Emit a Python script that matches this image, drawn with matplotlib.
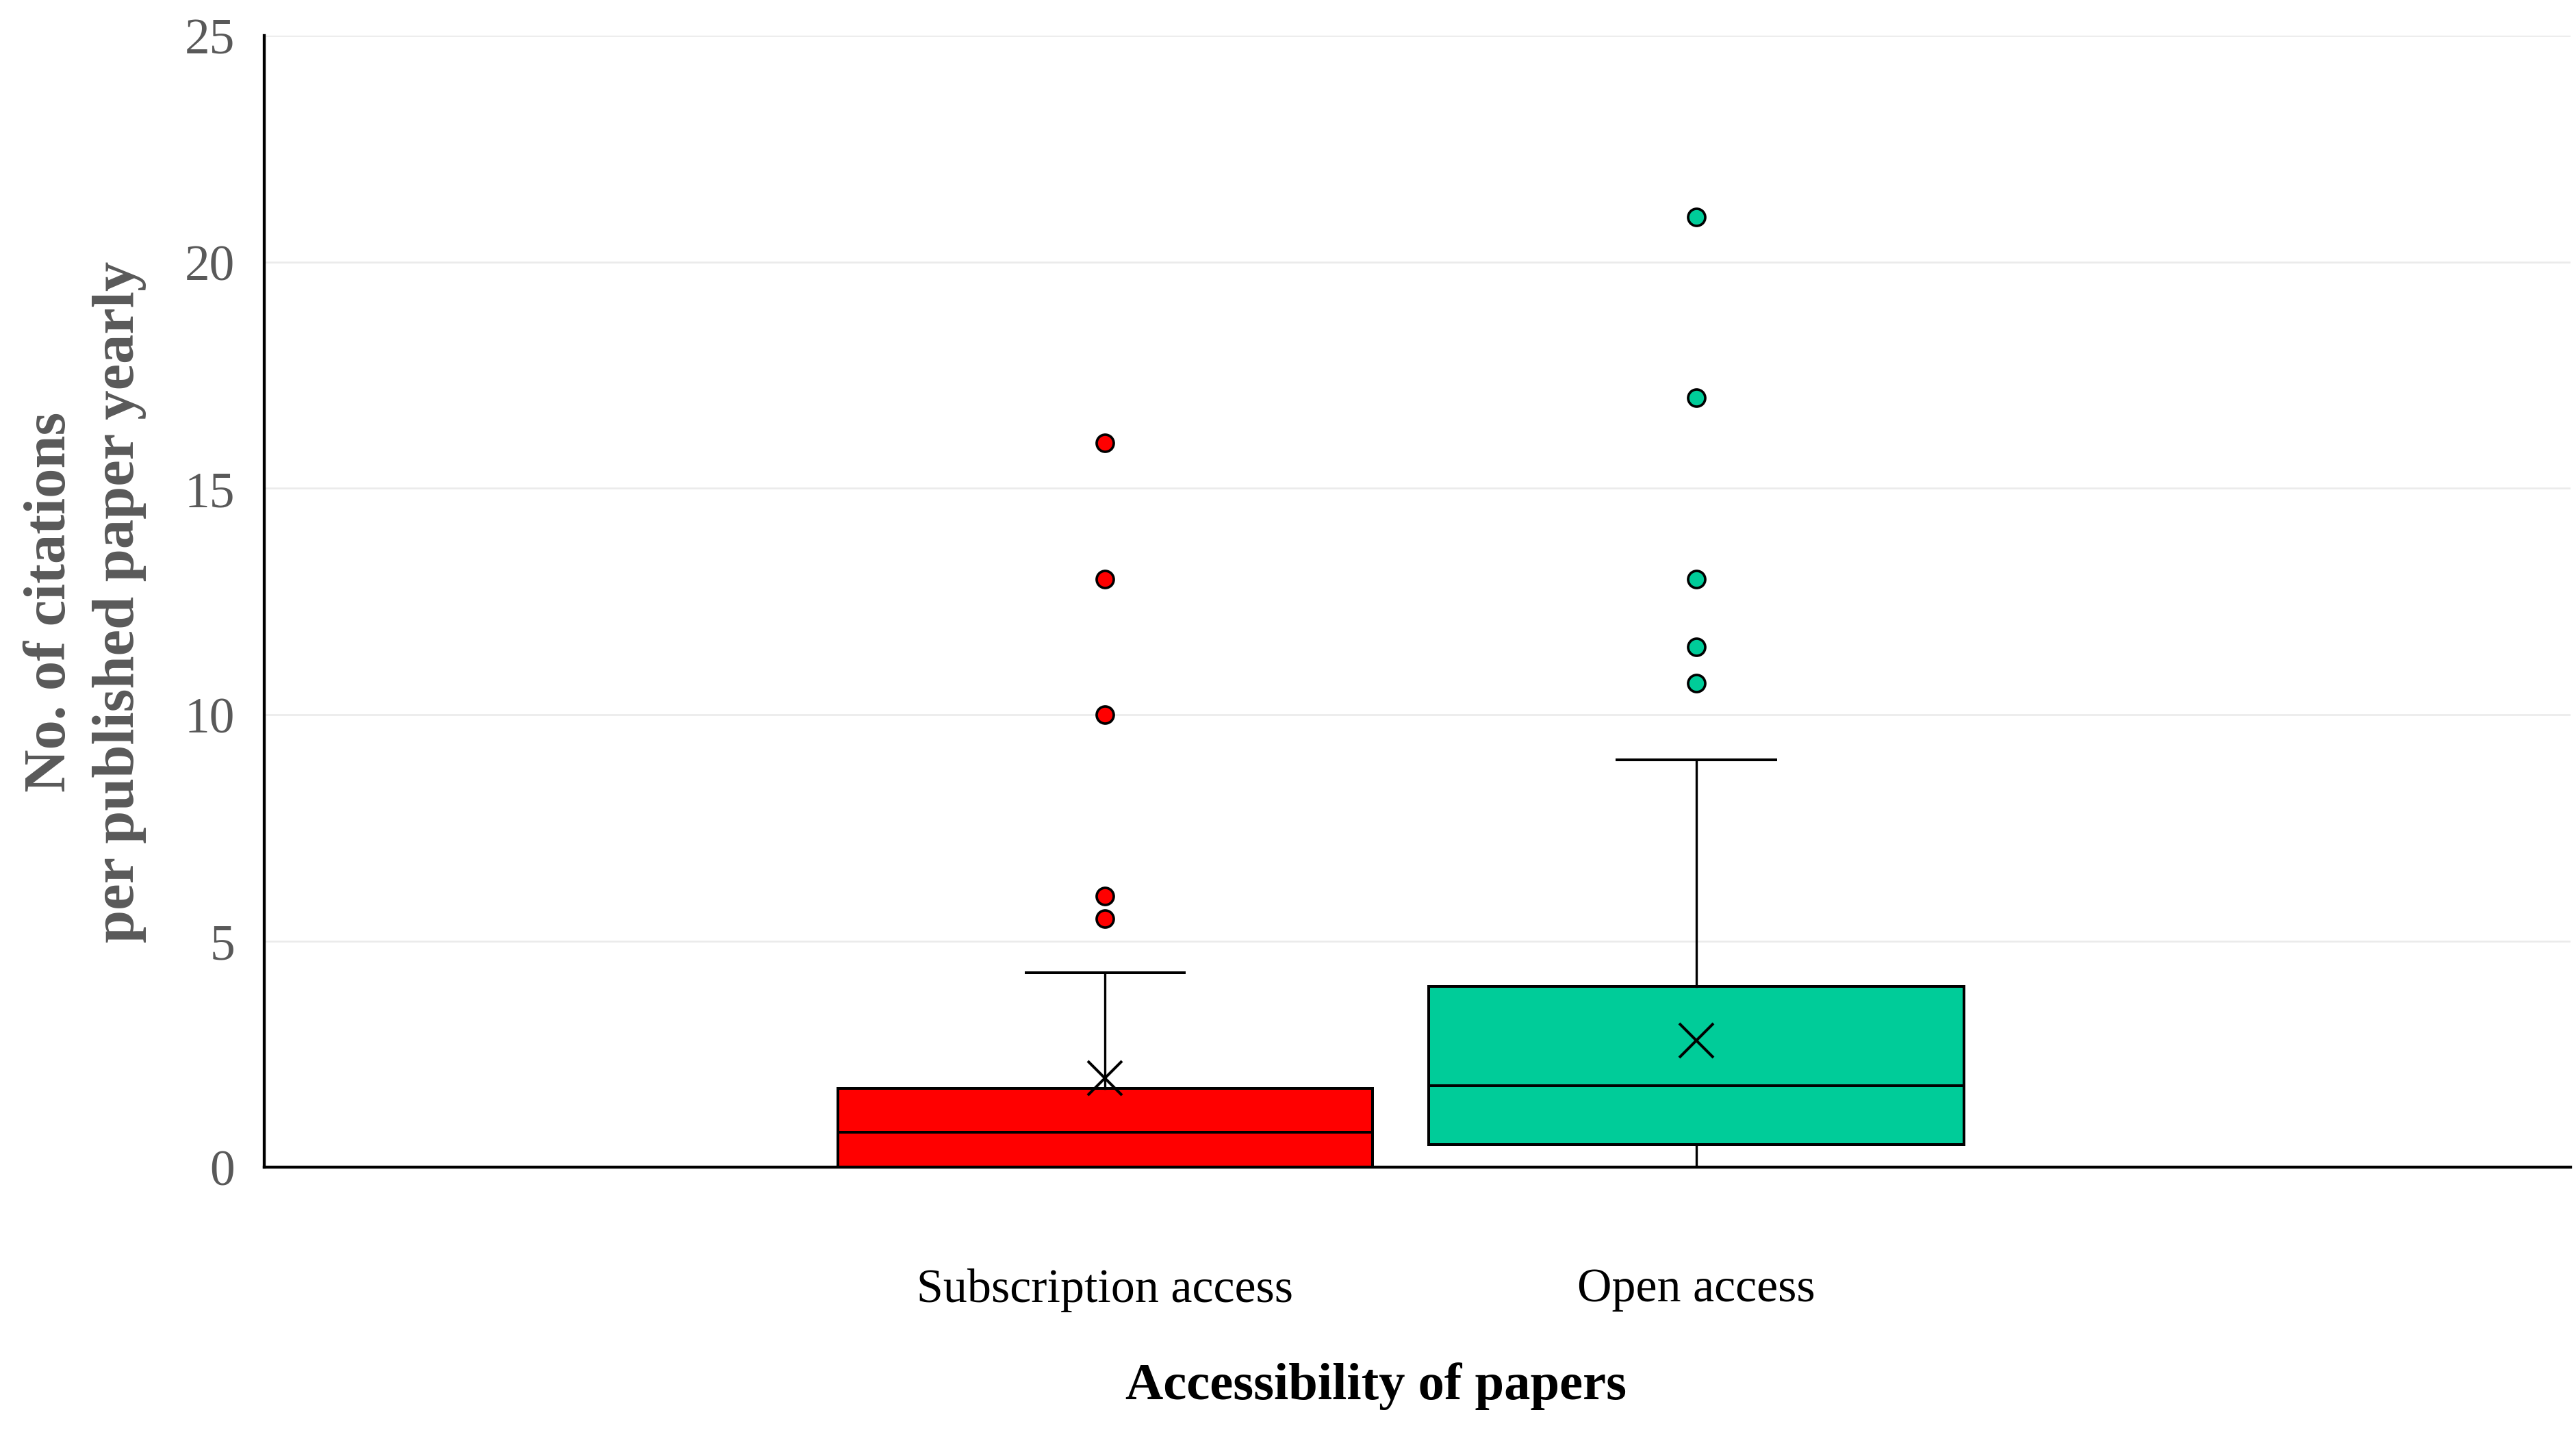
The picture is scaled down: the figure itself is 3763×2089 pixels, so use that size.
import matplotlib
matplotlib.use("Agg")
import matplotlib.pyplot as plt

# values
groups = ["Subscription access", "Open access"]
box_colors = ["#FF0000", "#00CC99"]
medians = [0.78, 1.8]
q1s = [0.0, 0.5]
q3s = [1.75, 4.0]
means = [1.97, 2.8]
whisker_lo = [0.0, 0.0]
whisker_hi = [4.3, 9.0]
outliers = [
    [16.0, 13.0, 10.0, 6.0, 5.5],
    [21.0, 17.0, 13.0, 11.5, 10.7],
]
yticks = [0, 5, 10, 15, 20, 25]

plt.rcParams['font.family'] = ['Liberation Serif', 'DejaVu Serif']

stats = []
for i, name in enumerate(groups):
    stats.append({
        'label': name,
        'med': medians[i],
        'q1': q1s[i],
        'q3': q3s[i],
        'mean': means[i],
        'whislo': whisker_lo[i],
        'whishi': whisker_hi[i],
        'fliers': outliers[i],
    })

fig = plt.figure(figsize=(15.683, 8.708), dpi=240)
ax = fig.add_axes([0.1026, 0.1836, 0.8950, 0.7910])

bp = ax.bxp(stats, positions=[1, 2], widths=0.905, capwidths=0.268,
            patch_artist=True, showmeans=True,
            boxprops=dict(edgecolor='black', linewidth=1.2),
            medianprops=dict(color='black', linewidth=1.2),
            whiskerprops=dict(color='black', linewidth=1.0),
            capprops=dict(color='black', linewidth=1.2),
            meanprops=dict(marker='x', markersize=15, markeredgecolor='black',
                           markeredgewidth=1.2),
            flierprops=dict(marker='o', markersize=7.5, markeredgecolor='black',
                            markeredgewidth=1.1))

for patch, fl, col in zip(bp['boxes'], bp['fliers'], box_colors):
    patch.set_facecolor(col)
    fl.set_markerfacecolor(col)

ax.set_xlim(-0.422, 3.478)
ax.set_ylim(0, 25)
ax.set_yticks(yticks)
ax.yaxis.grid(True, color='#EBEBEB', linewidth=0.8)
ax.set_axisbelow(True)

for s in ['top', 'right']:
    ax.spines[s].set_visible(False)
ax.spines['left'].set_linewidth(1.3)
ax.spines['bottom'].set_linewidth(1.3)

ax.tick_params(axis='y', length=0, pad=13, labelsize=22, labelcolor='#595959')
ax.tick_params(axis='x', length=0, pad=44, labelsize=21, labelcolor='black')

ax.set_xlabel('Accessibility of papers', fontsize=23, fontweight='bold')
ax.xaxis.set_label_coords(0.482, -0.172)
ax.set_ylabel('No. of citations\nper published paper yearly', fontsize=26,
              fontweight='bold', color='#595959', linespacing=1.35)
ax.yaxis.set_label_coords(-0.051, 0.5)

fig.savefig('out.png', dpi=240, facecolor='white')
